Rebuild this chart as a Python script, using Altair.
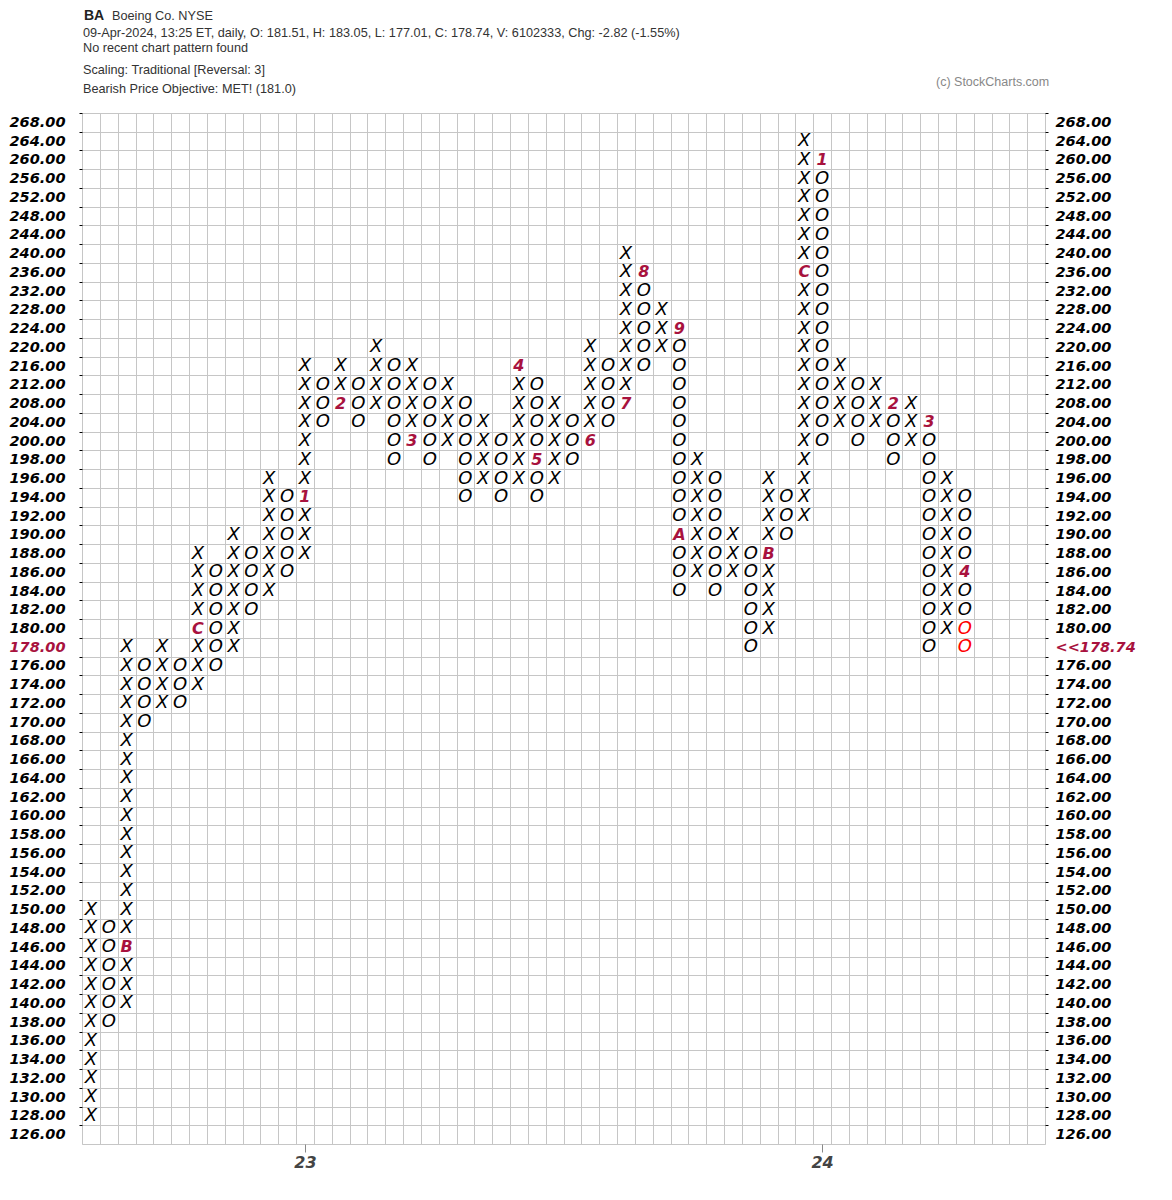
import altair as alt
import pandas as pd

# ---------------- data ----------------
levels = [126, 128, 130, 132, 134, 136, 138, 140, 142, 144, 146, 148, 150, 152, 154, 156, 158,
          160, 162, 164, 166, 168, 170, 172, 174, 176, 178, 180, 182, 184, 186, 188, 190, 192,
          194, 196, 198, 200, 204, 208, 212, 216, 220, 224, 228, 232, 236, 240, 244, 248, 252,
          256, 260, 264, 268]

col_type = ["X", "O"] * 25
col_low = [128, 138, 140, 170, 172, 172, 174, 176, 178, 182, 184, 186, 188, 204, 208, 204, 208,
           198, 200, 198, 200, 194, 196, 194, 196, 194, 196, 198, 200, 204, 208, 216, 220, 184,
           186, 184, 186, 178, 180, 190, 192, 200, 204, 200, 204, 198, 200, 178, 180, 178]
col_high = [150, 148, 178, 176, 178, 176, 188, 186, 190, 188, 196, 194, 216, 212, 216, 212, 220,
            216, 216, 212, 212, 208, 204, 200, 216, 212, 208, 204, 220, 216, 240, 236, 228, 224,
            198, 196, 190, 188, 196, 194, 264, 260, 216, 212, 212, 208, 208, 204, 196, 194]

month_cols = [2, 6, 12, 14, 18, 24, 25, 28, 30, 31, 33, 33, 38, 40, 41, 45, 47, 49]
month_prices = [146, 180, 194, 208, 200, 216, 198, 200, 208, 236, 224, 190, 188, 236, 260, 208, 204, 186]
month_text = ["B", "C", "1", "2", "3", "4", "5", "6", "7", "8", "9", "A", "B", "C", "1", "2", "3", "4"]

recent_cols = [49, 49]
recent_prices = [180, 178]

last_price_level = 178
last_price_text = "<<178.74"

year_cols = [12, 41]
year_text = ["23", "24"]

n_cols = 54

header_title = ["BA"]
header_name = ["Boeing Co.  NYSE"]
header_lines = ["09-Apr-2024, 13:25 ET, daily, O: 181.51, H: 183.05, L: 177.01, C: 178.74, V: 6102333, Chg: -2.82 (-1.55%)",
                "No recent chart pattern found",
                "Scaling: Traditional [Reversal: 3]",
                "Bearish Price Objective: MET! (181.0)"]
copyright_text = ["(c) StockCharts.com"]

# ---------------- build tables ----------------
month_set = {(c, p) for c, p in zip(month_cols, month_prices)}
recent_set = {(c, p) for c, p in zip(recent_cols, recent_prices)}

rows = []
for c, (t, lo, hi) in enumerate(zip(col_type, col_low, col_high)):
    for p in levels:
        if lo <= p <= hi and (c, p) not in month_set:
            rows.append({"col": c + 0.5, "row": levels.index(p) + 0.5, "sym": t,
                         "kind": "recent" if (c, p) in recent_set else "normal"})
boxes = pd.DataFrame(rows)

months = pd.DataFrame({"col": [c + 0.5 for c in month_cols],
                       "row": [levels.index(p) + 0.5 for p in month_prices],
                       "sym": month_text})

W, H = 963, 1031
ROW_H = H / len(levels)
CRIMSON = "#a8123e"
GRID = "#c6c6c6"

left_labels = ["'%.2f'" % v for v in levels]
right_labels = ["'%s'" % (last_price_text if v == last_price_level else "%.2f" % v) for v in levels]
last_idx = levels.index(last_price_level) + 1

label_font = dict(labelFont="DejaVu Sans", labelFontSize=14.5, labelFontWeight="bold",
                  labelFontStyle="italic")

yleft = alt.Axis(orient="left", values=list(range(1, len(levels) + 1)),
                 labelExpr="[" + ",".join(left_labels) + "][datum.value-1]",
                 labelOffset=ROW_H / 2, grid=True, gridColor=GRID, gridWidth=1,
                 ticks=True, tickSize=3, tickColor="black", domain=False,
                 labelPadding=14, labelOverlap=False, labelBound=False, title=None,
                 labelColor={"condition": {"test": "datum.value == %d" % last_idx, "value": CRIMSON},
                             "value": "black"},
                 **label_font)
yright = alt.Axis(orient="right", values=list(range(1, len(levels) + 1)),
                  labelExpr="[" + ",".join(right_labels) + "][datum.value-1]",
                  labelOffset=ROW_H / 2, grid=False,
                  ticks=True, tickSize=3, tickColor="black", domain=False,
                  labelPadding=7, labelOverlap=False, labelBound=False, title=None,
                  labelColor={"condition": {"test": "datum.value == %d" % last_idx, "value": CRIMSON},
                              "value": "black"},
                  **label_font)

year_expr = " : ".join("datum.value == %s ? '%s'" % (c + 0.5, t) for c, t in zip(year_cols, year_text)) + " : ''"
xaxis = alt.Axis(orient="bottom", values=list(range(0, n_cols + 1)) + [c + 0.5 for c in year_cols],
                 grid=True, gridColor=GRID, gridWidth=1,
                 gridOpacity={"condition": {"test": "datum.value % 1 != 0", "value": 0}, "value": 1},
                 tickOpacity={"condition": {"test": "datum.value % 1 != 0", "value": 1}, "value": 0},
                 tickColor="#888888", tickSize=8, domain=False, labelExpr=year_expr,
                 labelFont="DejaVu Sans", labelFontSize=16, labelFontWeight="bold",
                 labelFontStyle="italic", labelColor="#444444", labelPadding=2,
                 labelFlush=False, labelOverlap=False, labelBound=False, title=None)

xscale = alt.Scale(domain=[0, n_cols], nice=False, zero=False)
yscale = alt.Scale(domain=[0, len(levels)], nice=False, zero=False)

box_layer = alt.Chart(boxes).mark_text(font="DejaVu Sans", fontSize=18, fontStyle="italic").encode(
    x=alt.X("col:Q", scale=xscale, axis=xaxis),
    y=alt.Y("row:Q", scale=yscale, axis=yleft),
    text="sym:N",
    color=alt.Color("kind:N", scale=alt.Scale(domain=["normal", "recent"], range=["#000000", "#ff0000"]),
                    legend=None),
)

month_layer = alt.Chart(months).mark_text(font="DejaVu Sans", fontSize=16, fontStyle="italic",
                                          fontWeight="bold", color=CRIMSON).encode(
    x=alt.X("col:Q", scale=xscale, axis=xaxis),
    y=alt.Y("row:Q", scale=yscale, axis=yright),
    text="sym:N",
)

HDR = 12.7
title_layer = alt.Chart(pd.DataFrame({"t": header_title})).mark_text(
    align="left", font="Liberation Sans", fontSize=14, fontWeight="bold", color="#222222").encode(
    text="t:N", x=alt.value(2), y=alt.value(-97))
name_layer = alt.Chart(pd.DataFrame({"t": header_name})).mark_text(
    align="left", font="Liberation Sans", fontSize=HDR, color="#333333").encode(
    text="t:N", x=alt.value(30), y=alt.value(-97))
lines_df = pd.DataFrame({"t": header_lines, "yy": [-80, -65, -43, -24]})
lines_layer = alt.Chart(lines_df).mark_text(
    align="left", font="Liberation Sans", fontSize=HDR, color="#333333").encode(
    text="t:N", x=alt.value(1), y=alt.Y("yy:Q", scale=None))
copy_layer = alt.Chart(pd.DataFrame({"t": copyright_text})).mark_text(
    align="left", font="Liberation Sans", fontSize=12.5, color="#888888").encode(
    text="t:N", x=alt.value(854), y=alt.value(-31))

chart = alt.layer(box_layer, month_layer, title_layer, name_layer, lines_layer, copy_layer).resolve_axis(
    y="independent").properties(
    width=W, height=H,
    autosize=alt.AutoSizeParams(type="none"),
    padding={"left": 74, "top": 105, "right": 110, "bottom": 50},
).configure_view(stroke=GRID, strokeWidth=1)

chart.save("out.html", embed_options={"renderer": "svg", "actions": False})
